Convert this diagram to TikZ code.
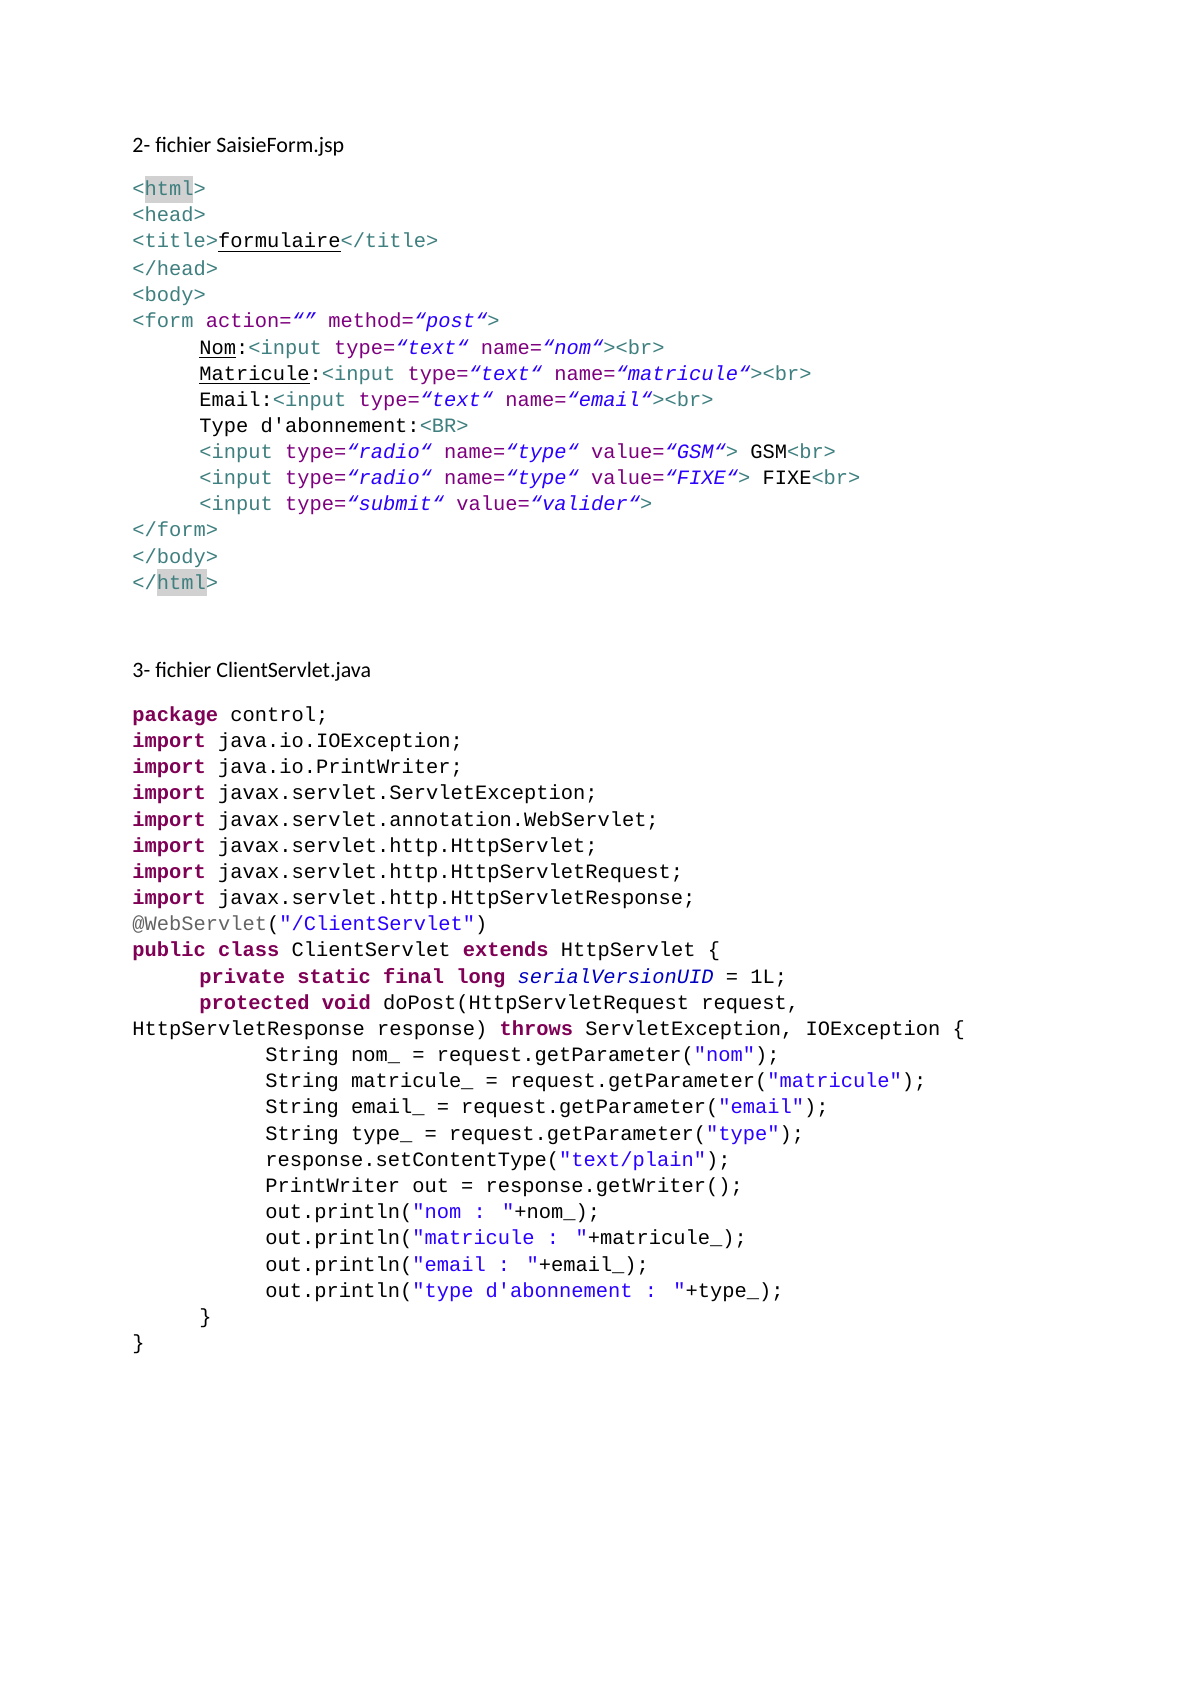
\documentclass[tikz,border=0pt]{standalone}
\usepackage{fontspec}
\setmainfont{Carlito}
\newfontfamily\code{Liberation Mono}
\definecolor{tagc}{HTML}{3F7F7F}
\definecolor{attc}{HTML}{7F007F}
\definecolor{valc}{HTML}{2A00FF}
\definecolor{kwc}{HTML}{7F0055}
\definecolor{anc}{HTML}{646464}
\definecolor{fldc}{HTML}{0000C0}
\newcommand{\tg}[1]{\textcolor{tagc}{#1}}
\newcommand{\at}[1]{\textcolor{attc}{#1}}
\newcommand{\vl}[1]{\textcolor{valc}{\itshape #1}}
\newcommand{\kw}[1]{\textcolor{kwc}{\bfseries #1}}
\newcommand{\st}[1]{\textcolor{valc}{#1}}
\tikzset{ln/.style={anchor=base west,inner sep=0pt,font=\code\fontsize{10.2pt}{12pt}\selectfont},
hd/.style={anchor=base west,inner sep=0pt,font=\fontsize{11pt}{13pt}\selectfont}}
\begin{document}
\begin{tikzpicture}[x=0.5pt,y=-0.5pt]
\useasboundingbox[fill=white] (0,0) rectangle (1200,1696);
\fill[black!18] (145,176) rectangle (193,203);
\fill[black!18] (157,569) rectangle (207,596);
\node[hd] (h1) at (132,153) {2- fichier SaisieForm.jsp};
\foreach \y/\x/\t [count=\i] in {
196/132/{\tg{<html>}},
222/132/{\tg{<head>}},
248/132/{\tg{<title>}\underline{formulaire}\tg{</title>}},
275/132/{\tg{</head>}},
301/132/{\tg{<body>}},
327/132/{\tg{<form} \at{action=}\vl{“”} \at{method=}\vl{“post“}\tg{>}},
354/199/{\underline{Nom}:\tg{<input} \at{type=}\vl{“text“} \at{name=}\vl{“nom“}\tg{><br>}},
380/199/{\underline{Matricule}:\tg{<input} \at{type=}\vl{“text“} \at{name=}\vl{“matricule“}\tg{><br>}},
406/199/{Email:\tg{<input} \at{type=}\vl{“text“} \at{name=}\vl{“email“}\tg{><br>}},
432/199/{Type d'abonnement:\tg{<BR>}},
458/199/{\tg{<input} \at{type=}\vl{“radio“} \at{name=}\vl{“type“} \at{value=}\vl{“GSM“}\tg{>} GSM\tg{<br>}},
484/199/{\tg{<input} \at{type=}\vl{“radio“} \at{name=}\vl{“type“} \at{value=}\vl{“FIXE“}\tg{>} FIXE\tg{<br>}},
510/199/{\tg{<input} \at{type=}\vl{“submit“} \at{value=}\vl{“valider“}\tg{>}},
536/132/{\tg{</form>}},
563/132/{\tg{</body>}},
589/132/{\tg{</html>}}}
\node[ln] (a\i) at (\x,\y) {\t};
\node[hd] (h2) at (132,677) {3- fichier ClientServlet.java};
\foreach \y/\x/\t [count=\i] in {
721/132/{\kw{package} control;},
747/132/{\kw{import} java.io.IOException;},
773/132/{\kw{import} java.io.PrintWriter;},
799/132/{\kw{import} javax.servlet.ServletException;},
826/132/{\kw{import} javax.servlet.annotation.WebServlet;},
852/132/{\kw{import} javax.servlet.http.HttpServlet;},
878/132/{\kw{import} javax.servlet.http.HttpServletRequest;},
904/132/{\kw{import} javax.servlet.http.HttpServletResponse;},
930/132/{\textcolor{anc}{@WebServlet}(\st{"/ClientServlet"})},
956/132/{\kw{public} \kw{class} ClientServlet \kw{extends} HttpServlet \{},
983/199/{\kw{private} \kw{static} \kw{final} \kw{long} \textcolor{fldc}{\itshape serialVersionUID} = 1L;},
1009/199/{\kw{protected} \kw{void} doPost(HttpServletRequest request,},
1035/132/{HttpServletResponse response) \kw{throws} ServletException, IOException \{},
1061/265/{String nom\_ = request.getParameter(\st{"nom"});},
1087/265/{String matricule\_ = request.getParameter(\st{"matricule"});},
1113/265/{String email\_ = request.getParameter(\st{"email"});},
1140/265/{String type\_ = request.getParameter(\st{"type"});},
1166/265/{response.setContentType(\st{"text/plain"});},
1192/265/{PrintWriter out = response.getWriter();},
1218/265/{out.println(\st{"nom : "}+nom\_);},
1244/265/{out.println(\st{"matricule : "}+matricule\_);},
1271/265/{out.println(\st{"email : "}+email\_);},
1297/265/{out.println(\st{"type d'abonnement : "}+type\_);},
1323/199/{\}},
1349/132/{\}}}
\node[ln] (b\i) at (\x,\y) {\t};
\end{tikzpicture}
\end{document}
